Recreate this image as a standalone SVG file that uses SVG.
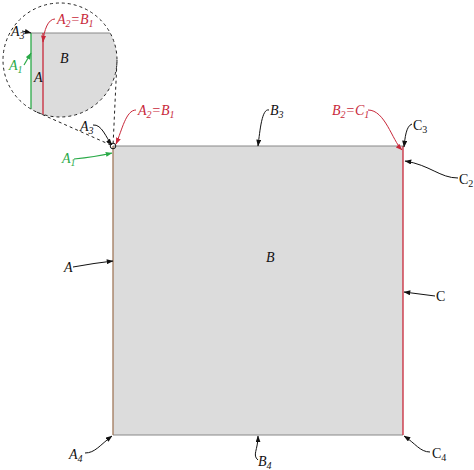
<svg xmlns="http://www.w3.org/2000/svg" width="474" height="470" viewBox="0 0 474 470">
<style>
text{font-family:"Liberation Serif","DejaVu Serif",serif;font-size:14px;font-style:italic}
.up{font-style:normal}
.k{fill:#111}.r{fill:#c8283a}.g{fill:#2aaa48}
.sub{font-size:10px}
.ck{fill:none;stroke:#111;stroke-width:1;marker-end:url(#mk)}
.cr{fill:none;stroke:#c8283a;stroke-width:1;marker-end:url(#mr)}
.cg{fill:none;stroke:#2aaa48;stroke-width:1.2;marker-end:url(#mg)}
</style>
<defs>
<marker id="mk" viewBox="0 0 8 6" refX="7.5" refY="3" markerWidth="7" markerHeight="5" markerUnits="userSpaceOnUse" orient="auto"><path d="M0,0L8,3L0,6z" fill="#111"/></marker>
<marker id="mr" viewBox="0 0 8 6" refX="7.5" refY="3" markerWidth="7" markerHeight="5" markerUnits="userSpaceOnUse" orient="auto"><path d="M0,0L8,3L0,6z" fill="#c8283a"/></marker>
<marker id="mg" viewBox="0 0 8 6" refX="7.5" refY="3" markerWidth="7" markerHeight="5" markerUnits="userSpaceOnUse" orient="auto"><path d="M0,0L8,3L0,6z" fill="#2aaa48"/></marker>
<clipPath id="ic"><circle cx="60" cy="60" r="57"/></clipPath>
</defs>

<g id="inset">
<g clip-path="url(#ic)">
<rect x="31" y="33" width="100" height="100" fill="#dcdcdc"/>
<line x1="31" y1="33" x2="120" y2="33" stroke="#888" stroke-width="1"/>
<line x1="31" y1="33" x2="31" y2="120" stroke="#2aaa48" stroke-width="1.3"/>
<line x1="43" y1="33" x2="43" y2="120" stroke="#c8283a" stroke-width="1.3"/>
</g>
<circle cx="60" cy="60" r="57" fill="none" stroke="#222" stroke-width="1" stroke-dasharray="3,3"/>
<line x1="36.8" y1="112.1" x2="113" y2="146" stroke="#222" stroke-dasharray="3,3"/>
<line x1="116.9" y1="62.7" x2="113" y2="146" stroke="#222" stroke-dasharray="3,3"/>
<text class="k" x="60" y="63">B</text>
<text class="k" x="34" y="82">A</text>
</g>

<g id="square">
<rect x="113" y="146" width="290" height="289" fill="#dcdcdc"/>
<line x1="113" y1="146" x2="403" y2="146" stroke="#888"/>
<line x1="113" y1="435" x2="403" y2="435" stroke="#888"/>
<line x1="113" y1="146" x2="113" y2="435" stroke="#a0785a" stroke-width="1.3"/>
<line x1="403" y1="146" x2="403" y2="435" stroke="#c8283a" stroke-width="1.3"/>
<circle cx="113" cy="146" r="2.8" fill="none" stroke="#111" stroke-width="1"/>
<text class="k" x="266" y="262">B</text>
</g>

<g id="connectors">
<path class="ck" d="M22,31 Q27,32 31,33"/>
<path class="cr" d="M55,19 C48,19 44,30 43,42"/>
<path class="cg" d="M24,65 L31,53"/>
<path class="ck" d="M93,125 C102,124 106,138 112,145"/>
<path class="cr" d="M136,110 C126,110 122,130 116,144"/>
<path class="cg" d="M74,159 Q95,157 112,153"/>
<path class="ck" d="M269,110 C262,108 260,130 258,146"/>
<path class="cr" d="M368,110 C385,110 392,140 402,150"/>
<path class="ck" d="M412,124 C406,126 405,138 404,147"/>
<path class="ck" d="M458,178 C440,178 430,165 405,161"/>
<path class="ck" d="M73,267 Q95,263 113,261"/>
<path class="ck" d="M435,296 L404,292"/>
<path class="ck" d="M85,453 C95,453 100,445 112,436"/>
<path class="ck" d="M258,460 C252,455 258,450 258,436"/>
<path class="ck" d="M430,452 C420,452 415,443 404,436"/>
</g>

<g id="labels">
<text class="k" x="11" y="36">A<tspan class="sub" dy="3">3</tspan></text>
<text class="r" x="57" y="24">A<tspan class="sub" dy="3">2</tspan><tspan dy="-3">=B</tspan><tspan class="sub" dy="3">1</tspan></text>
<text class="g" x="9" y="70">A<tspan class="sub" dy="3">1</tspan></text>
<text class="k" x="80" y="131">A<tspan class="sub" dy="3">3</tspan></text>
<text class="r" x="138" y="115">A<tspan class="sub" dy="3">2</tspan><tspan dy="-3">=B</tspan><tspan class="sub" dy="3">1</tspan></text>
<text class="g" x="62" y="163">A<tspan class="sub" dy="3">1</tspan></text>
<text class="k" x="270" y="115">B<tspan class="sub" dy="3">3</tspan></text>
<text class="r" x="332" y="115">B<tspan class="sub" dy="3">2</tspan><tspan dy="-3">=C</tspan><tspan class="sub" dy="3">1</tspan></text>
<text class="k up" x="413" y="130">C<tspan class="sub" dy="3">3</tspan></text>
<text class="k up" x="459" y="184">C<tspan class="sub" dy="3">2</tspan></text>
<text class="k" x="64" y="272">A</text>
<text class="k up" x="436" y="301">C</text>
<text class="k" x="69" y="459">A<tspan class="sub" dy="3">4</tspan></text>
<text class="k" x="258" y="466">B<tspan class="sub" dy="3">4</tspan></text>
<text class="k up" x="432" y="458">C<tspan class="sub" dy="3">4</tspan></text>
</g>
</svg>
